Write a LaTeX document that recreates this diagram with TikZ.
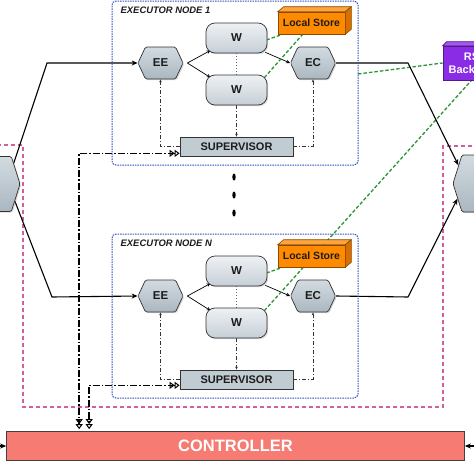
\documentclass[tikz,border=0pt]{standalone}
\usepackage{fontspec}
\setmainfont{Liberation Sans}
\usetikzlibrary{arrows.meta,shapes.symbols,shadows,calc}
\pgfdeclarelayer{bgwhite}
\pgfdeclarelayer{back}
\pgfsetlayers{bgwhite,back,main}
\definecolor{hextop}{HTML}{D3DBE1}
\definecolor{hexbot}{HTML}{AAB7C0}
\definecolor{wtop}{HTML}{EEF1F4}
\definecolor{wbot}{HTML}{C6CFD6}
\definecolor{supfill}{HTML}{C1CBD2}
\definecolor{edgegray}{HTML}{333333}
\definecolor{txtdark}{HTML}{1C1C1C}
\definecolor{lsorange}{HTML}{FF8A00}
\definecolor{lstop}{HTML}{FFA43A}
\definecolor{lsside}{HTML}{D96F00}
\definecolor{lsedge}{HTML}{8A4A00}
\definecolor{rspurple}{HTML}{8A2BE6}
\definecolor{rstop}{HTML}{A457F0}
\definecolor{ctrlred}{HTML}{F57B73}
\definecolor{pinkd}{HTML}{D0609C}
\definecolor{blued}{HTML}{2F52C0}
\definecolor{greend}{HTML}{2A9436}
\tikzset{
  shadowed/.style={drop shadow={shadow xshift=1.2pt,shadow yshift=-1.2pt,opacity=0.3}},
  hexbox/.style={signal, signal to=east and west, signal pointer angle=130,
    draw=edgegray, line width=0.7pt, top color=hextop, bottom color=hexbot,
    rounded corners=1.5pt, inner sep=0pt, minimum width=45, minimum height=32,
    font=\fontsize{11.5}{12}\selectfont\bfseries, text=txtdark, shadowed},
  wbox/.style={rectangle, rounded corners=9pt, draw=edgegray, line width=0.7pt,
    top color=wtop, bottom color=wbot, minimum width=61, minimum height=30,
    inner sep=0pt, font=\fontsize{11.5}{12}\selectfont\bfseries, text=txtdark, shadowed},
  supbox/.style={rectangle, draw=edgegray, line width=0.7pt, fill=supfill,
    minimum width=113, minimum height=19, inner sep=0pt,
    font=\fontsize{11}{12}\selectfont\bfseries, text=txtdark, shadowed},
  storebox/.style={rectangle, draw=lsedge, line width=0.6pt, fill=lsorange,
    minimum width=67, minimum height=22, inner sep=0pt,
    font=\fontsize{10.5}{12}\selectfont\bfseries, text=txtdark},
  rsbox/.style={rectangle, draw=rspurple!60!black, line width=0.6pt, fill=rspurple,
    minimum width=57, minimum height=34, inner sep=0pt, align=center,
    font=\fontsize{11}{13}\selectfont\bfseries, text=white},
  execbox/.style={rectangle, draw=blued, line width=1pt, rounded corners=4pt,
    dash pattern=on 1.5pt off 1pt},
  execlabel/.style={font=\fontsize{9.4}{11}\selectfont\bfseries\itshape, text=txtdark, inner sep=0pt},
  ctrlbox/.style={rectangle, draw=black!75, line width=0.7pt, fill=ctrlred,
    minimum width=458, minimum height=29, inner sep=0pt,
    font=\fontsize{16.5}{18}\selectfont\bfseries, text=white},
  flow/.style={line width=1.1pt, -{Stealth[length=6pt,width=5pt]}},
  inner/.style={line width=0.7pt, -{Stealth[length=4pt,width=3.5pt]}},
  ctl/.style={line width=0.6pt, black!80, dash pattern=on 4pt off 2pt on 1pt off 2pt,
    -{Stealth[length=3pt,width=2.5pt]}},
  dtip/.style={Triangle[open,length=5pt,width=7pt,line width=1pt]},
  bigdd/.style={line width=1.4pt, dash pattern=on 7pt off 2pt on 1.5pt off 2pt,
    {Triangle[open,length=5pt,width=7pt,line width=1pt]Triangle[open,length=5pt,width=7pt,line width=1pt]}-{Triangle[open,length=5pt,width=7pt,line width=1pt]Triangle[open,length=5pt,width=7pt,line width=1pt]}},
  greenline/.style={greend, line width=1.3pt, dash pattern=on 3.5pt off 2pt},
  pinkline/.style={pinkd, line width=1.1pt, dash pattern=on 4pt off 3pt},
}
\begin{document}
\begin{tikzpicture}[x=1pt,y=-1pt]
\useasboundingbox (0,0) rectangle (474,474);
\begin{pgfonlayer}{bgwhite}
\fill[white] (0,0) rectangle (474,474);
\end{pgfonlayer}

% big hexagons (partly outside the frame)
\node[hexbox, minimum width=70, minimum height=55, signal pointer angle=145] (lhex) at (-15,184) {};
\node[hexbox, minimum width=74, minimum height=57, signal pointer angle=145] (rhex) at (490,183.5) {};

% RS backend
\node[rsbox] (rs) at (471.5,63) {RS\\Backend};
\fill[rstop, draw=rspurple!60!black, line width=0.6pt] (rs.north west) -- ++(4,-4) -- ($(rs.north east)+(4,-4)$) -- (rs.north east) -- cycle;

% controller
\node[ctrlbox] (ctrl) at (235.5,446) {CONTROLLER};
\coordinate (cl) at (-12,446);
\coordinate (cr) at (486,446);

\foreach \off/\nm in {0/1,233/N}{
  \node[execbox, minimum width=246, minimum height=164] (ex\nm) at (235,{83+\off}) {};
  \node[execlabel, anchor=west] (lab\nm) at (120.5,{10.5+\off}) {EXECUTOR NODE \nm};
  \node[hexbox] (ee\nm) at (160.5,{63+\off}) {EE};
  \node[hexbox] (ec\nm) at (313,{63+\off}) {EC};
  \node[wbox] (wt\nm) at (236.5,{38+\off}) {W};
  \node[wbox] (wb\nm) at (236.5,{90+\off}) {W};
  \node[supbox] (sup\nm) at (236.5,{146.5+\off}) {SUPERVISOR};
  \node[storebox] (ls\nm) at (311.5,{23+\off}) {Local Store};
  \filldraw[fill=lstop, draw=lsedge, line width=0.6pt] (ls\nm.north west) -- ++(6,-5) -- ($(ls\nm.north east)+(6,-5)$) -- (ls\nm.north east) -- cycle;
  \filldraw[fill=lsside, draw=lsedge, line width=0.6pt] (ls\nm.north east) -- ++(6,-5) -- ($(ls\nm.south east)+(6,-5)$) -- (ls\nm.south east) -- cycle;
  \begin{pgfonlayer}{back}
    \draw[inner] ($(ee\nm.east)+(4,0)$) -- ($(wt\nm.south west)+(5,-3)$);
    \draw[inner] ($(ee\nm.east)+(4,0)$) -- ($(wb\nm.north west)+(5,3)$);
    \draw[inner] ($(wt\nm.south east)+(-2,-1)$) -- (ec\nm.west);
    \draw[black!60, line width=0.6pt, dash pattern=on 1pt off 2pt] (wt\nm.south) -- (wb\nm.north);
    \draw[ctl] (sup\nm.west) -| (ee\nm.south);
    \draw[ctl] (sup\nm.east) -| (ec\nm.south);
    \draw[ctl] (wb\nm.south) -- (sup\nm.north);
    \draw[greenline] ($(wt\nm.east)+(-1,2)$) -- ($(ls\nm.south west)+(5,0)$);
  \end{pgfonlayer}
}

\begin{pgfonlayer}{back}
  % pink dashed boundary
  \draw[pinkline] (-3,145) -- (23,145) -- (23,407) -- (443,407) -- (443,146) -- (478,146);
  % green links
  \draw[greenline] ($(wb1.north east)+(-3,3)$) -- ($(ls1.south west)+(25,0)$);
  \coordinate (g1) at (358,74);
  \draw[greenline] (g1) -- (rs.west);
  \draw[greenline] ($(wbN.north east)+(-3,3)$) -- ($(rs.south)+(0,0)$);
  % main flow
  \draw[flow] (lhex.36) -- (47,63) -- (ee1.west);
  \draw[flow] (lhex.330) -- (52,297) -- (eeN.west);
  \draw[flow] (ec1.east) -- (408,63) -- (rhex.150);
  \draw[flow] (ecN.east) -- (408,297) -- (rhex.205);
  % controller links
  \draw[bigdd] ($(sup1.south west)+(0,-3)$) -| ($(ctrl.north west)+(73,-2)$);
  \draw[bigdd] ($(supN.south west)+(0,-4)$) -| ($(ctrl.north west)+(83,-2)$);
  \draw[flow] (cl) -- (ctrl.west);
  \draw[flow] (cr) -- (ctrl.east);
\end{pgfonlayer}

% vertical ellipsis between executors
\fill[black] (234,177) ellipse [x radius=1.7, y radius=3.5];
\fill[black] (234,195) ellipse [x radius=1.7, y radius=3.5];
\fill[black] (234,213) ellipse [x radius=1.7, y radius=3.5];
\end{tikzpicture}
\end{document}
